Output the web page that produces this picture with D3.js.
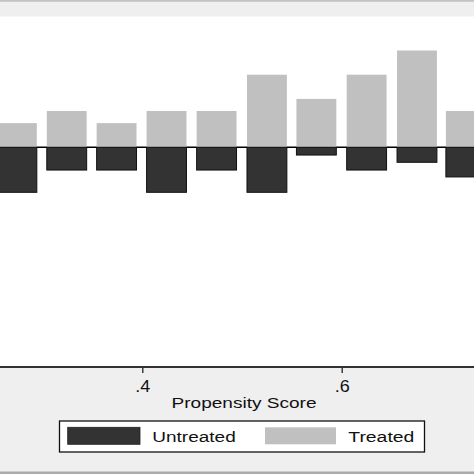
<!DOCTYPE html>
<html><head><meta charset="utf-8">
<script src="https://cdn.jsdelivr.net/npm/d3@7/dist/d3.min.js"></script>
<style>html,body{margin:0;padding:0;background:#fff;}svg{display:block;}</style>
</head><body>
<script>
// Bin centres on the propensity score axis
const binCenters = [0.2742, 0.3242, 0.3742, 0.4243, 0.4745, 0.5250, 0.5746, 0.6250, 0.6755, 0.7245];
// Bar heights (common density-like unit)
const treated   = [2.0, 3.0, 2.0, 3.0, 3.0, 6.0, 4.0, 6.0, 8.0, 3.0];
const untreated = [3.72, 1.88, 1.88, 3.72, 1.88, 3.72, 0.64, 1.88, 1.24, 2.45];
const xTicks = [0.4, 0.6];
const xTickLabels = [".4", ".6"];
const seriesNames = ["Untreated", "Treated"];
const seriesColors = ["#333333", "#c0c0c0"];
const binHalfWidth = 0.02;

const W = 474, H = 474;
const plotTop = 16.5, plotBottom = 367;
const svg = d3.select("body").append("svg").attr("width", W).attr("height", H);

// backgrounds
svg.append("rect").attr("x",0).attr("y",0).attr("width",W).attr("height",H).attr("fill","#efefef");
svg.append("rect").attr("x",0).attr("y",0).attr("width",W).attr("height",1.8).attr("fill","#c4c4c4");
svg.append("rect").attr("x",0).attr("y",plotTop).attr("width",W).attr("height",plotBottom-plotTop).attr("fill","#ffffff");
svg.append("rect").attr("x",0).attr("y",471.5).attr("width",W).attr("height",3).attr("fill","#ababab");

// scales: .4 -> 142.3, .6 -> 341.7
const x = d3.scaleLinear().domain([0.4, 0.6]).range([142.3, 341.7]);
const unitPx = 12.1, zeroY = 147.3;
const y = d3.scaleLinear().domain([0, 1]).range([zeroY, zeroY - unitPx]);

const g = svg.append("g");
// zero line
g.append("line").attr("x1",0).attr("x2",W).attr("y1",y(0)).attr("y2",y(0))
  .attr("stroke","#000").attr("stroke-width",1.5);

// treated (above)
g.selectAll("rect.tr").data(binCenters).join("rect").attr("class","tr")
  .attr("x", d => x(d - binHalfWidth))
  .attr("width", d => x(d + binHalfWidth) - x(d - binHalfWidth))
  .attr("y", (d,i) => y(treated[i]))
  .attr("height", (d,i) => y(0) - y(treated[i]))
  .attr("fill", seriesColors[1]);

// untreated (below)
g.selectAll("rect.un").data(binCenters).join("rect").attr("class","un")
  .attr("x", d => x(d - binHalfWidth))
  .attr("width", d => x(d + binHalfWidth) - x(d - binHalfWidth))
  .attr("y", y(0))
  .attr("height", (d,i) => y(-untreated[i]) - y(0))
  .attr("fill", seriesColors[0])
  .attr("stroke", "#111").attr("stroke-width", 1);

// x axis
const axis = d3.axisBottom(x).tickValues(xTicks).tickFormat((d,i)=>xTickLabels[i]).tickSize(6).tickPadding(3);
const ax = svg.append("g").attr("transform",`translate(0,${plotBottom})`).call(axis);
ax.select(".domain").remove();
ax.selectAll(".tick line").attr("stroke","#222").attr("stroke-width",1.3);
ax.selectAll(".tick text").attr("font-family","Liberation Sans, Arial, sans-serif")
  .attr("font-size",16.5).attr("fill","#111").attr("y",24.7).attr("dy",null)
  .attr("textLength",15).attr("lengthAdjust","spacingAndGlyphs");
svg.append("line").attr("x1",0).attr("x2",W).attr("y1",plotBottom).attr("y2",plotBottom)
  .attr("stroke","#333").attr("stroke-width",2);

// x title
svg.append("text").attr("x",244).attr("y",407.5).attr("text-anchor","middle")
  .attr("font-family","Liberation Sans, Arial, sans-serif").attr("font-size",15.5).attr("fill","#111")
  .attr("textLength",145).attr("lengthAdjust","spacingAndGlyphs")
  .text("Propensity Score");

// legend
const lg = svg.append("g");
lg.append("rect").attr("x",59.5).attr("y",421).attr("width",365).attr("height",31)
  .attr("fill","#ffffff").attr("stroke","#111").attr("stroke-width",1.3);
const items = [
  {sx:67.7, sw:72.3, tx:152.3, tw:83.4},
  {sx:265, sw:71, tx:348.3, tw:66}
];
items.forEach((it,i)=>{
  lg.append("rect").attr("x",it.sx).attr("y",427.3).attr("width",it.sw).attr("height",17)
    .attr("fill",seriesColors[i]).attr("stroke", i===0 ? "#222" : "none").attr("stroke-width",0.8);
  lg.append("text").attr("x",it.tx).attr("y",441.8)
    .attr("font-family","Liberation Sans, Arial, sans-serif").attr("font-size",15.5).attr("fill","#111")
    .attr("textLength",it.tw).attr("lengthAdjust","spacingAndGlyphs")
    .text(seriesNames[i]);
});
</script>
</body></html>
